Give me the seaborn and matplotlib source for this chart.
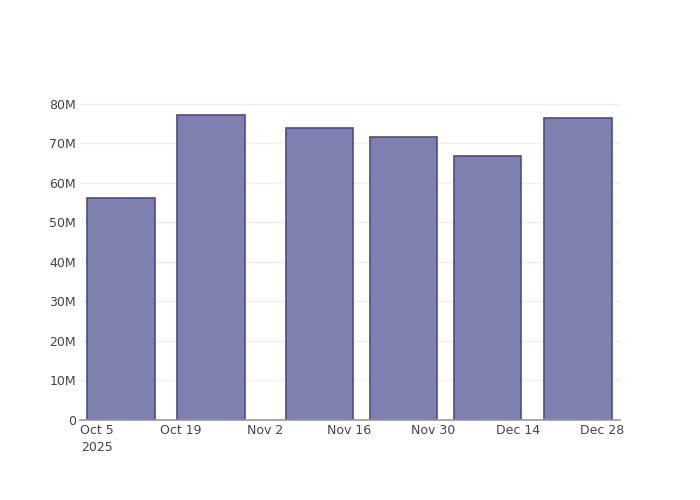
import numpy as np
import pandas as pd
import matplotlib
matplotlib.use("Agg")
import matplotlib.pyplot as plt
import matplotlib.dates as mdates
from matplotlib.ticker import FuncFormatter
import seaborn as sns

### Data

bar_dates = ["2025-10-09", "2025-10-24", "2025-11-11", "2025-11-25", "2025-12-09", "2025-12-24"]
bar_values = [56.2e6, 77.1e6, 73.9e6, 71.6e6, 66.8e6, 76.5e6]
tick_dates = ["2025-10-05", "2025-10-19", "2025-11-02", "2025-11-16", "2025-11-30", "2025-12-14", "2025-12-28"]
tick_labels = ["Oct 5\n2025", "Oct 19", "Nov 2", "Nov 16", "Nov 30", "Dec 14", "Dec 28"]
y_ticks = [0, 10e6, 20e6, 30e6, 40e6, 50e6, 60e6, 70e6, 80e6]

### Plot

sns.set_style("white")
plt.rcParams['font.family'] = ['DejaVu Sans']

df = pd.DataFrame({"date": mdates.date2num(pd.to_datetime(bar_dates)), "value": bar_values})

fig, ax = plt.subplots(figsize=(7, 5), dpi=100)
fig.subplots_adjust(left=80 / 700, right=620 / 700, bottom=80 / 500, top=400 / 500)

sns.barplot(data=df, x="date", y="value", native_scale=True, width=0.8, ax=ax,
            color="#7f7fb0", saturation=1, edgecolor="#4c4c8c", linewidth=1.2, zorder=3)

x0 = mdates.date2num(pd.Timestamp(tick_dates[0]))
ax.set_xlim(x0 - 2.8, x0 + 87)
ax.set_ylim(0, 81e6)

ax.set_xticks(mdates.date2num(pd.to_datetime(tick_dates)))
ax.set_xticklabels(tick_labels, linespacing=1.35)
ax.set_yticks(y_ticks)
ax.yaxis.set_major_formatter(FuncFormatter(lambda v, p: "0" if v == 0 else f"{int(round(v / 1e6))}M"))

ax.grid(axis="y", color="#eeeeee", linewidth=1, zorder=0)
ax.grid(axis="x", visible=False)
ax.set_xlabel("")
ax.set_ylabel("")
for side in ["top", "right", "left"]:
    ax.spines[side].set_visible(False)
ax.spines["bottom"].set_color("#999999")
ax.spines["bottom"].set_linewidth(1.2)
ax.spines["bottom"].set_zorder(4)
ax.tick_params(axis="both", length=0, labelsize=9, labelcolor="#444444")
ax.tick_params(axis="x", pad=3)
ax.tick_params(axis="y", pad=3)

plt.savefig("out.png", dpi=100)
